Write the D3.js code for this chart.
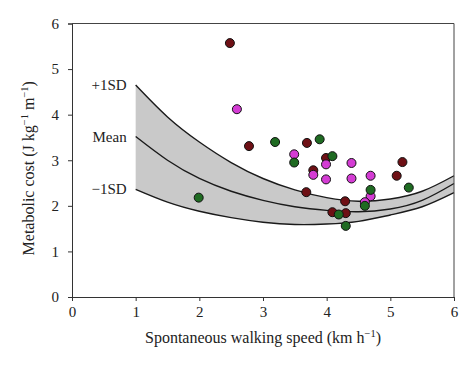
<!DOCTYPE html>
<html>
<head>
<meta charset="utf-8">
<script src="https://cdn.jsdelivr.net/npm/d3@7"></script>
<style>
  body { margin: 0; background: #fff; }
  text { font-family: "Liberation Serif", "DejaVu Serif", serif; fill: #222; }
</style>
</head>
<body>
<svg id="chart" width="474" height="366"></svg>
<script>
const curveSpeeds = [1, 1.5, 2, 2.5, 3, 3.5, 4, 4.5, 5, 5.5, 6];
const upperSD = [4.65, 3.95, 3.4, 2.95, 2.6, 2.35, 2.18, 2.1, 2.15, 2.32, 2.66];
const meanCost = [3.52, 3.0, 2.6, 2.32, 2.12, 1.98, 1.9, 1.87, 1.93, 2.12, 2.49];
const lowerSD = [2.36, 2.08, 1.88, 1.74, 1.64, 1.59, 1.6, 1.66, 1.8, 1.98, 2.29];

// measured subjects, three groups
const groupRedSpeed = [2.48, 2.78, 3.69, 3.79, 3.99, 5.19, 5.10, 3.68, 4.29, 4.09, 4.30];
const groupRedCost = [5.57, 3.31, 3.38, 2.78, 3.05, 2.96, 2.66, 2.30, 2.10, 1.86, 1.84];
const groupPinkSpeed = [2.59, 3.49, 3.79, 3.99, 3.99, 4.39, 4.39, 4.69, 4.69, 4.60];
const groupPinkCost = [4.12, 3.13, 2.68, 2.91, 2.58, 2.94, 2.60, 2.66, 2.21, 2.08];
const groupGreenSpeed = [1.99, 3.19, 3.89, 3.49, 4.09, 5.29, 4.19, 4.30, 4.69, 4.60];
const groupGreenCost = [2.18, 3.40, 3.46, 2.95, 3.09, 2.40, 1.81, 1.56, 2.35, 2.00];

const xTicks = [0, 1, 2, 3, 4, 5, 6];
const yTicks = [0, 1, 2, 3, 4, 5, 6];

const svg = d3.select('#chart');
const plotL = 72, plotR = 454, plotT = 23.5, plotB = 297;

const x = d3.scaleLinear().domain([0, 6]).range([plotL, plotR]);
const y = d3.scaleLinear().domain([0, 6]).range([plotB, plotT]);

// shaded band between -1SD and +1SD
const band = curveSpeeds.map((s, i) => ({ s, lo: lowerSD[i], hi: upperSD[i] }));
svg.append('path')
  .datum(band)
  .attr('fill', '#c9c9c9')
  .attr('d', d3.area()
    .x(d => x(d.s))
    .y0(d => y(d.lo))
    .y1(d => y(d.hi))
    .curve(d3.curveNatural));

// the three curves
const line = d3.line().x(d => x(d[0])).y(d => y(d[1])).curve(d3.curveNatural);
[upperSD, meanCost, lowerSD].forEach(vals => {
  svg.append('path')
    .datum(curveSpeeds.map((s, i) => [s, vals[i]]))
    .attr('fill', 'none')
    .attr('stroke', '#1a1a1a')
    .attr('stroke-width', 1.4)
    .attr('d', line);
});

// frame (top and right)
svg.append('path')
  .attr('d', `M${plotL},${plotT}H${plotR}V${plotB}`)
  .attr('fill', 'none')
  .attr('stroke', '#444')
  .attr('stroke-width', 1);

// axes
const xAxis = svg.append('g')
  .attr('transform', `translate(0,${plotB})`)
  .call(d3.axisBottom(x).tickValues(xTicks).tickSize(4).tickPadding(5).tickFormat(d3.format('d')));
const yAxis = svg.append('g')
  .attr('transform', `translate(${plotL},0)`)
  .call(d3.axisLeft(y).tickValues(yTicks).tickSize(4).tickPadding(9).tickFormat(d3.format('d')));
[xAxis, yAxis].forEach(g => {
  g.select('.domain').attr('stroke', '#333');
  g.selectAll('.tick line').attr('stroke', '#333');
  g.selectAll('.tick text')
    .attr('font-family', '"Liberation Serif", serif')
    .attr('font-size', 15)
    .attr('fill', '#222');
});

// points
const groups = [
  { sx: groupRedSpeed, sy: groupRedCost, color: '#6e1015' },
  { sx: groupPinkSpeed, sy: groupPinkCost, color: '#d43cd4' },
  { sx: groupGreenSpeed, sy: groupGreenCost, color: '#1f6b22' }
];
groups.forEach(gr => {
  svg.append('g')
    .selectAll('circle')
    .data(gr.sx.map((s, i) => [s, gr.sy[i]]))
    .enter()
    .append('circle')
    .attr('cx', d => x(d[0]))
    .attr('cy', d => y(d[1]))
    .attr('r', 4.5)
    .attr('fill', gr.color)
    .attr('stroke', '#111')
    .attr('stroke-width', 1);
});

// curve labels
const labels = [['+1SD', upperSD[0]], ['Mean', meanCost[0]], ['\u22121SD', lowerSD[0]]];
svg.selectAll('.curve-label')
  .data(labels)
  .enter()
  .append('text')
  .attr('class', 'curve-label')
  .attr('x', x(1) - 9)
  .attr('y', d => y(d[1]) + 5)
  .attr('text-anchor', 'end')
  .attr('font-size', 15)
  .text(d => d[0]);

// axis titles
const xt = svg.append('text')
  .attr('x', (plotL + plotR) / 2)
  .attr('y', 343)
  .attr('text-anchor', 'middle')
  .attr('font-size', 16);
xt.append('tspan').text('Spontaneous walking speed (km h');
xt.append('tspan').attr('dy', -6).attr('font-size', 10.5).text('\u22121');
xt.append('tspan').attr('dy', 6).text(')');

const yt = svg.append('text')
  .attr('transform', `translate(34,${(plotT + plotB) / 2 + 8}) rotate(-90)`)
  .attr('text-anchor', 'middle')
  .attr('font-size', 16);
yt.append('tspan').text('Metabolic cost (J kg');
yt.append('tspan').attr('dy', -6).attr('font-size', 10.5).text('\u22121');
yt.append('tspan').attr('dy', 6).text(' m');
yt.append('tspan').attr('dy', -6).attr('font-size', 10.5).text('\u22121');
yt.append('tspan').attr('dy', 6).text(')');
</script>
</body>
</html>
